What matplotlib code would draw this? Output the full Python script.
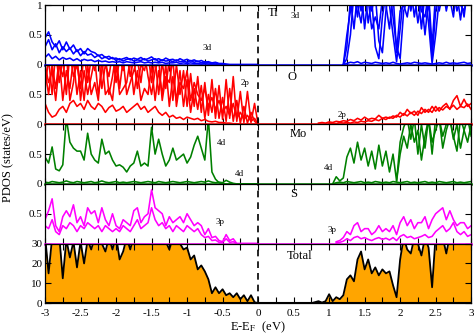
import numpy as np
import matplotlib.pyplot as plt
from matplotlib.ticker import MultipleLocator, FuncFormatter

plt.rcParams['font.family'] = ['Liberation Serif', 'DejaVu Serif']
plt.rcParams['mathtext.fontset'] = 'stix'

STEP = 0.05
# valence side energy grid, -3 .. 0 eV
e_vb = np.round(np.arange(-3.0, 0.0 + 1e-9, STEP), 2)

# Ti 3d
ti_vb = [
    [0.45, 0.55, 0.38, 0.30, 0.40, 0.25, 0.38, 0.26, 0.33, 0.22,
     0.27, 0.18, 0.27, 0.22, 0.20, 0.15, 0.17, 0.12, 0.14, 0.10,
     0.11, 0.08, 0.10, 0.12, 0.08, 0.11, 0.09, 0.12, 0.08, 0.10,
     0.13, 0.08, 0.10, 0.07, 0.11, 0.08, 0.09, 0.06, 0.10, 0.07,
     0.09, 0.06, 0.08, 0.05, 0.07, 0.04, 0.05, 0.03, 0.04, 0.02,
     0.02, 0.01, 0.0, 0.0, 0.0, 0.0, 0.0, 0.0, 0.0, 0.0, 0.0],
    [0.30, 0.42, 0.25, 0.35, 0.20, 0.30, 0.22, 0.28, 0.18, 0.25,
     0.15, 0.22, 0.16, 0.18, 0.12, 0.16, 0.10, 0.13, 0.09, 0.12,
     0.07, 0.10, 0.06, 0.09, 0.10, 0.06, 0.08, 0.07, 0.10, 0.06,
     0.08, 0.10, 0.05, 0.08, 0.06, 0.07, 0.05, 0.08, 0.05, 0.06,
     0.04, 0.07, 0.04, 0.06, 0.03, 0.05, 0.03, 0.02, 0.03, 0.01,
     0.01, 0.0, 0.0, 0.0, 0.0, 0.0, 0.0, 0.0, 0.0, 0.0, 0.0],
    [0.12, 0.18, 0.10, 0.14, 0.08, 0.12, 0.09, 0.11, 0.07, 0.10,
     0.06, 0.09, 0.07, 0.08, 0.05, 0.07, 0.05, 0.06, 0.04, 0.05,
     0.04, 0.05, 0.03, 0.05, 0.04, 0.03, 0.04, 0.05, 0.03, 0.04,
     0.03, 0.04, 0.03, 0.04, 0.02, 0.03, 0.03, 0.04, 0.02, 0.03,
     0.02, 0.03, 0.02, 0.02, 0.01, 0.02, 0.01, 0.01, 0.01, 0.0,
     0.0, 0.0, 0.0, 0.0, 0.0, 0.0, 0.0, 0.0, 0.0, 0.0, 0.0],
]
# conduction side curves: (onset energy, values)
ti_cb = [
    (1.20, [0.0, 0.3, 1.1, 0.6, 1.2, 0.9, 1.3, 0.7, 1.1, 0.3, 0.1, 0.8,
            1.2, 1.0, 0.5, 0.05, 0.6, 1.2, 1.3, 0.9, 1.2, 0.7, 1.1, 0.5,
            1.1, 0.1, 0.9, 1.3, 1.1, 1.2, 1.3, 1.0, 1.2, 0.75, 1.2, 1.1, 1.2]),
    (1.20, [0.0, 0.1, 0.5, 1.2, 0.8, 1.3, 0.6, 1.2, 0.9, 1.2, 0.4, 0.2,
            0.9, 1.3, 0.8, 0.3, 0.1, 0.9, 1.1, 1.3, 0.8, 1.2, 0.6, 1.2,
            0.7, 0.02, 0.5, 1.1, 1.3, 0.9, 1.2, 1.3, 0.9, 1.1, 0.8, 1.3, 1.0]),
    (1.20, [0.0, 0.5, 0.9, 1.3, 1.0, 0.7, 1.2, 1.1, 0.6, 0.8, 0.6, 1.1,
            1.0, 0.6, 1.2, 0.2, 0.9, 1.0, 0.8, 1.2, 1.0, 1.3, 0.9, 0.8,
            1.2, 0.3, 1.2, 0.9, 1.2, 1.3, 1.1, 0.8, 1.3, 1.0, 0.9, 1.2, 1.1]),
    (1.20, [0.0, 0.02, 0.04, 0.03, 0.05, 0.02, 0.04, 0.03, 0.02, 0.04,
            0.03, 0.02, 0.03, 0.02, 0.04, 0.02, 0.01, 0.02, 0.03, 0.02,
            0.04, 0.03, 0.02, 0.03, 0.02, 0.01, 0.02, 0.03, 0.02, 0.04,
            0.02, 0.03, 0.02, 0.03, 0.04, 0.02, 0.03]),
]

# O 2p
o_vb = [
    [0.6, 1.1, 0.5, 1.2, 0.7, 1.1, 0.5, 1.2, 0.8, 1.0,
     0.6, 1.2, 0.7, 1.1, 0.9, 1.2, 0.6, 1.0, 0.8, 1.2,
     0.7, 1.1, 0.9, 1.2, 0.8, 1.1, 0.6, 1.0, 0.9, 1.2,
     0.7, 1.1, 0.5, 1.05, 0.6, 1.1, 0.4, 1.0, 0.5, 0.9,
     0.3, 0.85, 0.3, 0.8, 0.2, 0.7, 0.15, 0.75, 0.1, 0.65,
     0.08, 0.75, 0.1, 0.8, 0.05, 0.55, 0.03, 0.55, 0.03, 0.35, 0.0],
    [0.9, 0.5, 1.0, 0.6, 1.1, 0.4, 0.9, 0.6, 1.1, 0.5,
     0.9, 0.4, 1.0, 0.5, 0.7, 0.4, 1.1, 0.5, 0.6, 0.4,
     1.0, 0.5, 0.6, 0.7, 1.1, 0.5, 0.9, 0.4, 0.6, 0.5,
     1.0, 0.4, 0.9, 0.5, 1.0, 0.3, 0.8, 0.4, 0.9, 0.3,
     0.75, 0.2, 0.6, 0.25, 0.65, 0.1, 0.5, 0.2, 0.6, 0.1,
     0.45, 0.05, 0.6, 0.05, 0.4, 0.02, 0.3, 0.02, 0.2, 0.05, 0.0],
    [1.0, 0.7, 0.9, 0.4, 1.0, 0.8, 1.2, 0.4, 0.7, 1.2,
     0.4, 0.9, 0.5, 0.8, 1.1, 0.5, 0.9, 1.2, 0.5, 0.8,
     1.2, 0.6, 1.1, 0.5, 0.7, 0.9, 1.1, 0.7, 1.2, 0.8,
     0.5, 0.9, 1.1, 0.4, 0.8, 0.7, 1.1, 0.3, 0.7, 0.6,
     0.9, 0.4, 0.7, 0.5, 0.4, 0.6, 0.3, 0.45, 0.25, 0.4,
     0.2, 0.3, 0.15, 0.35, 0.1, 0.2, 0.08, 0.15, 0.05, 0.1, 0.0],
    [0.35, 0.2, 0.12, 0.15, 0.25, 0.3, 0.2, 0.35, 0.4, 0.3,
     0.35, 0.25, 0.4, 0.3, 0.25, 0.35, 0.3, 0.2, 0.28, 0.32,
     0.22, 0.25, 0.3, 0.2, 0.25, 0.3, 0.35, 0.25, 0.3, 0.2,
     0.25, 0.3, 0.2, 0.15, 0.2, 0.12, 0.15, 0.1, 0.12, 0.08,
     0.12, 0.1, 0.08, 0.1, 0.06, 0.08, 0.05, 0.04, 0.05, 0.03,
     0.03, 0.02, 0.02, 0.01, 0.01, 0.0, 0.0, 0.0, 0.0, 0.0, 0.0],
]
o_cb = [
    (0.85, [0.02, 0.03, 0.02, 0.04, 0.03, 0.05, 0.04, 0.06, 0.05, 0.08,
            0.06, 0.1, 0.07, 0.12, 0.08, 0.1, 0.09, 0.15, 0.1, 0.12,
            0.1, 0.14, 0.12, 0.2, 0.15, 0.25, 0.18, 0.22, 0.15, 0.28,
            0.2, 0.25, 0.2, 0.3, 0.22, 0.3, 0.35, 0.25, 0.4, 0.48,
            0.3, 0.42, 0.3, 0.35]),
    (1.00, [0.01, 0.02, 0.01, 0.03, 0.02, 0.03, 0.02, 0.04, 0.03, 0.05,
            0.04, 0.06, 0.05, 0.08, 0.06, 0.1, 0.08, 0.12, 0.1, 0.15,
            0.12, 0.18, 0.14, 0.2, 0.15, 0.22, 0.18, 0.25, 0.2, 0.3,
            0.22, 0.28, 0.24, 0.3, 0.26, 0.32, 0.25, 0.3, 0.28, 0.34, 0.25]),
]

# Mo 4d
mo_vb = [
    [0.45, 0.35, 0.62, 0.25, 0.22, 0.32, 1.1, 0.7, 0.6, 0.55,
     0.55, 0.4, 0.85, 0.5, 0.4, 0.35, 0.75, 0.5, 0.55, 0.4,
     0.3, 0.32, 0.28, 0.2, 0.3, 0.35, 0.55, 0.3, 0.35, 0.3,
     0.95, 0.5, 0.75, 0.5, 0.3, 0.4, 0.6, 0.4, 0.45, 0.5,
     0.35, 0.45, 0.65, 0.8, 0.6, 0.4, 1.1, 0.2, 0.08, 0.02,
     0.0, 0.0, 0.0, 0.0, 0.0, 0.0, 0.0, 0.0, 0.0, 0.0, 0.0],
    [0.03, 0.02, 0.04, 0.03, 0.02, 0.03, 0.05, 0.03, 0.02, 0.04,
     0.03, 0.02, 0.03, 0.04, 0.02, 0.03, 0.05, 0.03, 0.02, 0.03,
     0.04, 0.02, 0.03, 0.02, 0.03, 0.04, 0.03, 0.02, 0.03, 0.04,
     0.03, 0.02, 0.04, 0.03, 0.02, 0.03, 0.04, 0.03, 0.02, 0.03,
     0.04, 0.03, 0.02, 0.03, 0.04, 0.03, 0.05, 0.03, 0.02, 0.03,
     0.02, 0.06, 0.03, 0.01, 0.0, 0.0, 0.0, 0.0, 0.0, 0.0, 0.0],
]
mo_cb = [
    (1.05, [0.0, 0.12, 0.05, 0.1, 0.45, 0.6, 0.35, 0.7, 0.4, 0.6,
            0.3, 0.55, 0.25, 0.65, 0.3, 0.55, 0.2, 0.5, 0.05, 0.7,
            0.95, 1.1, 0.75, 1.1, 0.5, 1.0, 0.6, 1.1, 0.5, 1.1,
            1.1, 0.8, 1.0, 1.1, 0.8, 0.55, 1.1, 0.9, 0.7, 1.0]),
    (1.95, [0.05, 0.5, 0.8, 0.6, 1.0, 0.7, 0.9, 0.4, 0.8, 1.1, 0.7,
            0.9, 1.1, 0.6, 0.9, 1.1, 0.75, 1.0, 0.6, 0.9, 1.1, 0.8]),
    (1.05, [0.0, 0.02, 0.03, 0.02, 0.04, 0.03, 0.02, 0.03, 0.04, 0.02,
            0.03, 0.02, 0.04, 0.03, 0.02, 0.03, 0.02, 0.04, 0.03, 0.02,
            0.03, 0.04, 0.02, 0.03, 0.02, 0.03, 0.04, 0.02, 0.03, 0.02,
            0.04, 0.03, 0.02, 0.03, 0.04, 0.02, 0.03, 0.02, 0.03, 0.04]),
]

# S 3p
s_vb = [
    [0.4, 0.55, 0.75, 0.3, 0.2, 0.45, 0.55, 0.45, 0.65, 0.35,
     0.45, 0.3, 0.6, 0.5, 0.55, 0.35, 0.6, 0.4, 0.3, 0.5,
     0.3, 0.25, 0.4, 0.35, 0.3, 0.55, 0.6, 0.35, 0.45, 0.5,
     0.9, 0.6, 0.55, 0.5, 0.3, 0.45, 0.35, 0.4, 0.45, 0.35,
     0.5, 0.4, 0.3, 0.35, 0.3, 0.15, 0.25, 0.1, 0.12, 0.05,
     0.03, 0.15, 0.05, 0.08, 0.0, 0.0, 0.0, 0.0, 0.0, 0.0, 0.0],
    [0.3, 0.25, 0.4, 0.2, 0.15, 0.3, 0.25, 0.35, 0.3, 0.2,
     0.3, 0.25, 0.35, 0.3, 0.25, 0.3, 0.2, 0.3, 0.25, 0.2,
     0.25, 0.2, 0.3, 0.25, 0.2, 0.3, 0.4, 0.25, 0.3, 0.35,
     0.6, 0.4, 0.3, 0.35, 0.25, 0.3, 0.2, 0.3, 0.25, 0.2,
     0.3, 0.25, 0.2, 0.25, 0.15, 0.1, 0.12, 0.05, 0.06, 0.02,
     0.02, 0.08, 0.02, 0.03, 0.0, 0.0, 0.0, 0.0, 0.0, 0.0, 0.0],
]
s_cb = [
    (1.10, [0.03, 0.05, 0.1, 0.2, 0.15, 0.3, 0.35, 0.2, 0.25, 0.25,
            0.15, 0.2, 0.3, 0.2, 0.25, 0.2, 0.3, 0.15, 0.35, 0.45,
            0.3, 0.4, 0.25, 0.35, 0.35, 0.45, 0.25, 0.4, 0.5, 0.55,
            0.6, 0.4, 0.55, 0.4, 0.3, 0.35, 0.35, 0.25, 0.3]),
    (1.10, [0.01, 0.02, 0.04, 0.08, 0.05, 0.1, 0.12, 0.08, 0.1, 0.07,
            0.05, 0.08, 0.1, 0.07, 0.09, 0.06, 0.1, 0.05, 0.12, 0.15,
            0.1, 0.12, 0.08, 0.1, 0.12, 0.15, 0.1, 0.12, 0.2, 0.25,
            0.3, 0.2, 0.25, 0.35, 0.2, 0.15, 0.2, 0.12, 0.15]),
]

# total DOS
total_vb = [
    34, 15, 33, 30, 34, 12.5, 32, 23, 31, 18,
    31, 20, 32, 27, 33, 35, 30, 26, 33, 27,
    34, 22, 26, 33, 27, 34, 36, 33, 35, 38,
    36, 34, 37, 33, 31, 27, 33, 31, 30, 27,
    28, 22, 24, 17, 19, 16, 12, 5, 8, 5,
    7, 4, 5, 3, 5, 2, 4, 1, 4, 0.5, 0.0]
total_cb_start = 0.75
total_cb = [
    0, 0.5, 1.0, 0.3, 1.0, 4.5, 1.0, 3.0, 2.0, 4.0,
    12, 14, 11, 22, 26, 17, 22, 15, 18, 14,
    17, 15, 16, 9, 3, 22, 33, 27, 25, 33,
    30, 24, 33, 28, 8, 34, 36, 33, 25, 34,
    36, 33, 35, 37, 34, 36]


def grid(start, vals):
    return start + STEP * np.arange(len(vals))


fmt = FuncFormatter(lambda v, p: f'{v:g}')

fig, axes = plt.subplots(5, 1, sharex=True, figsize=(4.74, 3.35), dpi=100,
                         gridspec_kw=dict(hspace=0))
fig.subplots_adjust(left=0.095, right=0.994, top=0.985, bottom=0.095)

panels = [
    (ti_vb, ti_cb, '#0000ff', [0, 0.5, 1], ['0', '0.5', '1']),
    (o_vb, o_cb, '#ff0000', [0, 0.5], ['0', '0.5']),
    (mo_vb, mo_cb, '#008000', [0, 0.5], ['0', '0.5']),
    (s_vb, s_cb, '#ff00ff', [0, 0.5], ['', '0.5']),
]

for ax, (vb, cb, col, yt, ytl) in zip(axes[:4], panels):
    for y in vb:
        ax.plot(e_vb, y, color=col, lw=1.15)
    for start, y in cb:
        ax.plot(grid(start, y), y, color=col, lw=1.15)
    ax.axhline(0, color=col, lw=1.8, zorder=5, clip_on=False)
    ax.set_ylim(0, 1)
    ax.set_yticks(yt)
    ax.set_yticklabels(ytl)

# total panel
ax = axes[4]
ax.fill_between(e_vb, 0, total_vb, color='orange', lw=0)
ax.plot(e_vb, total_vb, color='black', lw=1.3)
e_cb = grid(total_cb_start, total_cb)
ax.fill_between(e_cb, 0, total_cb, color='orange', lw=0)
ax.plot(e_cb, total_cb, color='black', lw=1.3)
ax.axhline(0, color='black', lw=1.5, zorder=5)
ax.set_ylim(0, 30)
ax.set_yticks([0, 10, 20, 30])

for ax in axes:
    ax.axvline(0, color='black', lw=1.2, ls=(0, (4, 3)))
    ax.set_xlim(-3, 3)
    ax.xaxis.set_major_locator(MultipleLocator(0.5))
    ax.xaxis.set_minor_locator(MultipleLocator(0.25))
    ax.xaxis.set_major_formatter(fmt)
    ax.tick_params(which='both', direction='in', top=True, right=True,
                   length=4, width=0.8, labelsize=8, pad=2)
    ax.tick_params(axis='x', pad=4)
    for sp in ax.spines.values():
        sp.set_linewidth(0.9)

axes[4].yaxis.set_major_formatter(fmt)
axes[4].set_xlabel('E-E$_{\\mathrm{F}}$  (eV)', fontsize=9, labelpad=1)
fig.text(0.018, 0.53, 'PDOS (states/eV)', rotation=90, va='center',
         ha='center', fontsize=9)

# orbital / species labels
lab = dict(fontsize=9)
small = dict(fontsize=6.5)
axes[0].text(0.14, 0.82, 'Ti', **lab)
axes[0].text(0.45, 0.78, '3d', **small)
axes[0].text(-0.78, 0.24, '3d', **small)
axes[1].text(0.42, 0.74, 'O', **lab)
axes[1].text(-0.24, 0.66, '2p', **small)
axes[1].text(1.12, 0.12, '2p', **small)
axes[2].text(0.45, 0.78, 'Mo', **lab)
axes[2].text(-0.58, 0.66, '4d', **small)
axes[2].text(-0.33, 0.14, '4d', **small)
axes[2].text(0.92, 0.24, '4d', **small)
axes[3].text(0.45, 0.78, 'S', **lab)
axes[3].text(-0.6, 0.32, '3p', **small)
axes[3].text(0.98, 0.2, '3p', **small)
axes[4].text(0.4, 22, 'Total', **lab)

plt.savefig('out.png', dpi=100)
